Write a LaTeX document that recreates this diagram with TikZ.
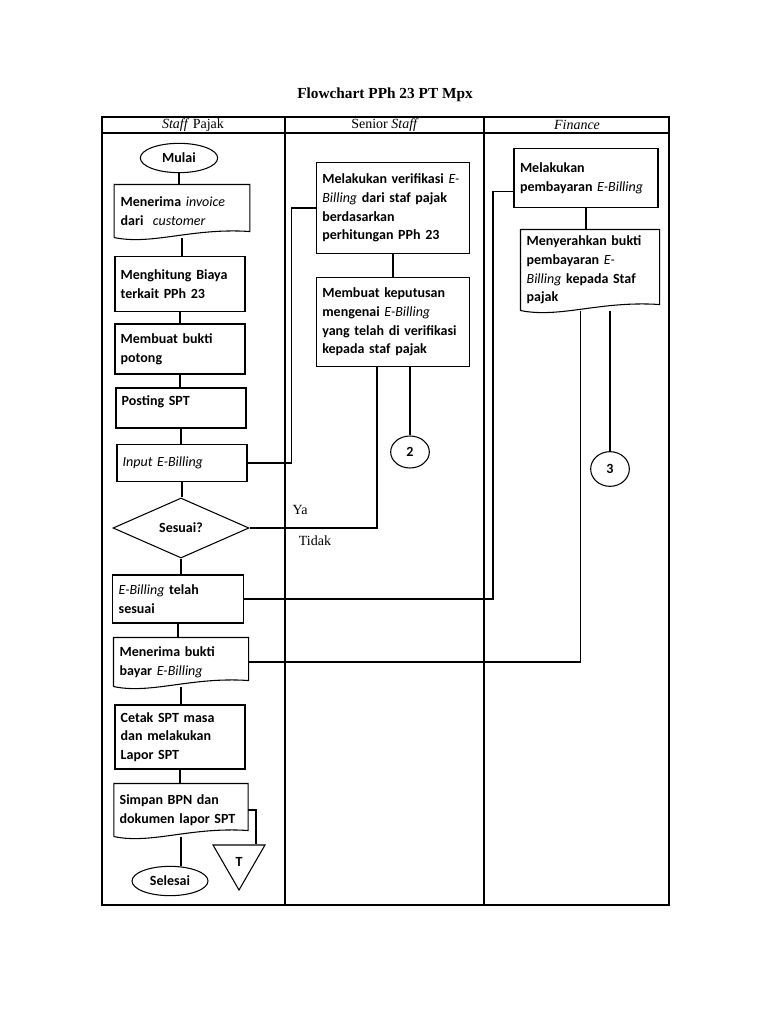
\documentclass[tikz,border=0pt]{standalone}
\usepackage{fontspec}
\setmainfont{Liberation Serif}
\newfontfamily\boxfont{Carlito}
\usepackage{tikz}
\usetikzlibrary{shapes.geometric,positioning,calc}

\newcommand{\ital}[1]{\textit{\mdseries #1}}
\newcommand{\docwave}[1]{%
    \draw[thick] (#1.south west) -- (#1.north west) -- (#1.north east) -- ([yshift=4.5pt]#1.south east)
        .. controls ($(#1.south)+(10,-10)$) and ($(#1.south)+(-30,8)$) .. (#1.south west);
}

\begin{document}
\begin{tikzpicture}[
    x=0.75pt, y=-0.75pt,
    box/.style={
        rectangle, draw, thick, inner sep=4pt, align=left,
        font=\boxfont\bfseries\fontsize{10.5}{14}\selectfont
    },
    doc/.style={box, draw=none},
    term/.style={
        ellipse, draw, thick, inner sep=0pt,
        font=\boxfont\bfseries\fontsize{10.5}{14}\selectfont
    },
    lane/.style={font=\fontsize{10.5}{12}\selectfont},
    line/.style={thick}
]
    \useasboundingbox (0,0) rectangle (768,1024);

    \node[font=\bfseries\fontsize{11.5}{14}\selectfont] (title) at (385,95) {Flowchart PPh 23 PT Mpx};

    % Lanes
    \draw[thick] (102,117) rectangle (669,905);
    \draw[thick] (102,133) -- (669,133);
    \draw[thick] (285,117) -- (285,905);
    \draw[thick] (484,117) -- (484,905);
    \node[lane] (laneA) at (193,125) {\textit{Staff} Pajak};
    \node[lane] (laneB) at (385,125) {Senior \textit{Staff}};
    \node[lane] (laneC) at (577,125) {\textit{Finance}};

    % Staff pajak
    \node[term,minimum width=58pt,minimum height=22pt] (mulai) at (179,158) {Mulai};
    \node[doc,minimum width=101pt,minimum height=39pt,text width=92pt] (terima) at (182,211) {Menerima \ital{invoice}\\dari \ \ital{customer}};
    \node[box,minimum width=97.5pt,minimum height=41pt,text width=89pt] (hitung) at (180,284) {Menghitung Biaya\\terkait PPh 23};
    \node[box,minimum width=97.5pt,minimum height=37.5pt,text width=89pt] (potong) at (180,349) {Membuat bukti\\potong};
    \node[box,minimum width=97.5pt,minimum height=30pt,text width=89pt] (posting) at (181,408) {Posting SPT\\[-3pt]\mbox{}};
    \node[box,minimum width=97.5pt,minimum height=28pt,text width=89pt] (input) at (182,463) {\ital{Input E-Billing}};
    \node[diamond,draw,thick,inner sep=0pt,minimum width=102pt,minimum height=45pt,
          font=\boxfont\bfseries\fontsize{10.5}{14}\selectfont] (sesuai) at (181,528) {Sesuai?};
    \node[box,minimum width=98pt,minimum height=36pt,text width=89pt] (telah) at (178,599) {\ital{E-Billing} telah\\sesuai};
    \node[doc,minimum width=100.5pt,minimum height=36pt,text width=92pt] (bayar) at (181,662) {Menerima bukti\\bayar \ital{E-Billing}};
    \node[box,minimum width=97.5pt,minimum height=48pt,text width=89pt] (cetak) at (180,737) {Cetak SPT masa\\dan melakukan\\Lapor SPT};
    \node[doc,minimum width=100pt,minimum height=39pt,text width=92pt] (simpan) at (181,810) {Simpan BPN dan\\dokumen lapor SPT};
    \node[term,minimum width=57pt,minimum height=22pt] (selesai) at (170,881) {Selesai};
    \node[regular polygon,regular polygon sides=3,shape border rotate=180,draw,thick,
          inner sep=0pt,minimum size=45pt] (arsip) at (239,860) {};
    \node[font=\boxfont\bfseries\fontsize{10.5}{14}\selectfont] (arsipT) at (239,862) {T};
    \docwave{terima}
    \docwave{bayar}
    \docwave{simpan}

    % Senior staff
    \node[box,minimum width=115pt,minimum height=68pt,text width=106pt] (verif) at (393,208) {Melakukan verifikasi \ital{E-}\\\ital{Billing} dari staf pajak\\berdasarkan\\perhitungan PPh 23};
    \node[box,minimum width=115pt,minimum height=67pt,text width=106pt] (putus) at (393,322) {Membuat keputusan\\mengenai \ital{E-Billing}\\yang telah di verifikasi\\kepada staf pajak};
    \node[term,minimum width=29pt,minimum height=24pt] (dua) at (410,452) {2};

    % Finance
    \node[box,minimum width=108pt,minimum height=44pt,text width=99pt] (bayarF) at (586,178) {Melakukan\\pembayaran \ital{E-Billing}};
    \node[doc,minimum width=103.5pt,minimum height=60pt,text width=95pt] (serah) at (590,270) {Menyerahkan bukti\\pembayaran \ital{E-}\\\ital{Billing} kepada Staf\\pajak};
    \docwave{serah}
    \node[term,minimum width=29pt,minimum height=26pt] (tiga) at (610,469) {3};

    % Connectors
    \foreach \a/\b in {mulai/terima,terima/hitung,hitung/potong,potong/posting,posting/input,
                      input/sesuai,sesuai/telah,telah/bayar,bayar/cetak,cetak/simpan,simpan/selesai} {
        \draw[line] (\a.south) -- (\a.south |- \b.north);
    }
    \draw[line] (verif.south) -- (verif.south |- putus.north);
    \draw[line] (bayarF.south) -- (bayarF.south |- serah.north);
    \draw[line] (simpan.east) -| ($(arsip.north)+(17,0)$);
    \draw[line] (input.east) -- ++(44,0) |- (verif.west);
    \draw[line] ([xshift=-12]putus.south) |- (sesuai.east);
    \draw[line] (putus.south -| dua.north) -- (dua.north);
    \draw[line] (telah.east) -- (493,599) |- ([yshift=-10]bayarF.west);
    \draw[line] ([xshift=-7]serah.south) |- (bayar.east);
    \draw[line] (tiga.north |- serah.south) -- (tiga.north);

    \node[lane] (ya) at (300,510) {Ya};
    \node[lane] (tidak) at (315,541) {Tidak};
\end{tikzpicture}
\end{document}
